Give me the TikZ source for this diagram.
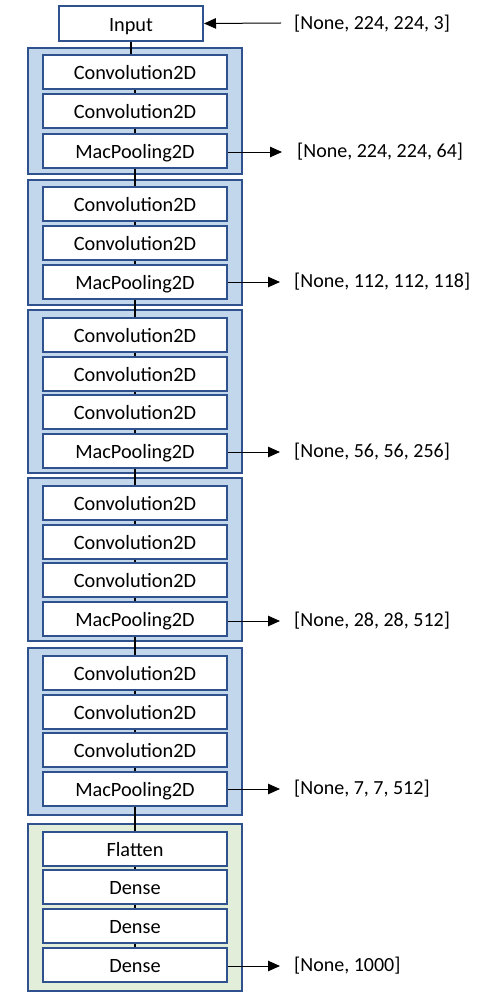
\documentclass[tikz,border=0pt]{standalone}
\usepackage{fontspec}
\setmainfont{Carlito}
\usetikzlibrary{arrows.meta}
\definecolor{edge}{HTML}{2F528F}
\definecolor{bluefill}{HTML}{C2D6EC}
\definecolor{greenfill}{HTML}{E3EEDA}
\tikzset{
  layer/.style={draw=edge, line width=2pt, fill=white, minimum width=184pt, minimum height=34pt, inner sep=0pt, text height=17.8pt, text depth=2pt, font=\fontsize{20.3}{24}\selectfont},
  blockb/.style={draw=edge, line width=2.4pt, fill=bluefill, minimum width=214pt, inner sep=0pt},
  blockg/.style={draw=edge, line width=2.4pt, fill=greenfill, minimum width=214pt, inner sep=0pt},
  shape lbl/.style={anchor=west, inner sep=0pt, font=\fontsize{20}{24}\selectfont},
  link/.style={draw=black, line width=1.6pt},
  outarrow/.style={draw=black, line width=1pt, -{Triangle[length=12pt,width=10.5pt]}},
}
\begin{document}
\begin{tikzpicture}[x=1pt,y=-1pt]
\useasboundingbox (0,0) rectangle (502,1006);
% outer blocks
\node[blockb, minimum height=126pt] (b1) at (135,111) {};
\node[blockb, minimum height=125pt] (b2) at (135,242.5) {};
\node[blockb, minimum height=163pt] (b3) at (135,391.5) {};
\node[blockb, minimum height=163pt] (b4) at (135,559.5) {};
\node[blockb, minimum height=167pt] (b5) at (135,731.5) {};
\node[blockg, minimum height=167pt] (b6) at (135,907.5) {};
% input
\node[layer, minimum width=144pt, minimum height=35pt] (in) at (131,23.5) {Input};
% block 1
\node[layer] (c11) at (135,72) {Convolution2D};
\node[layer] (c12) at (135,111) {Convolution2D};
\node[layer] (p1) at (135,151) {MacPooling2D};
% block 2
\node[layer] (c21) at (135,203.5) {Convolution2D};
\node[layer] (c22) at (135,242.5) {Convolution2D};
\node[layer] (p2) at (135,282) {MacPooling2D};
% block 3
\node[layer] (c31) at (135,334.5) {Convolution2D};
\node[layer] (c32) at (135,373.5) {Convolution2D};
\node[layer] (c33) at (135,412) {Convolution2D};
\node[layer] (p3) at (135,450.5) {MacPooling2D};
% block 4
\node[layer] (c41) at (135,502.5) {Convolution2D};
\node[layer] (c42) at (135,541.5) {Convolution2D};
\node[layer] (c43) at (135,580) {Convolution2D};
\node[layer] (p4) at (135,618.5) {MacPooling2D};
% block 5
\node[layer] (c51) at (135,672.5) {Convolution2D};
\node[layer] (c52) at (135,711.5) {Convolution2D};
\node[layer] (c53) at (135,750) {Convolution2D};
\node[layer] (p5) at (135,788.5) {MacPooling2D};
% block 6
\node[layer] (f) at (135,848.5) {Flatten};
\node[layer] (d1) at (135,887) {Dense};
\node[layer] (d2) at (135,926) {Dense};
\node[layer] (d3) at (135,964.5) {Dense};
% vertical links
\draw[link] (in.south) -- (in.south |- c11.north);
\foreach \a/\b in {c11/c12,c12/p1,p1/c21,c21/c22,c22/p2,p2/c31,c31/c32,c32/c33,c33/p3,p3/c41,c41/c42,c42/c43,c43/p4,p4/c51,c51/c52,c52/c53,c53/p5,p5/f,f/d1,d1/d2,d2/d3}
  \draw[link] (\a.south) -- (\b.north);
% shape labels
\node[shape lbl] (s0) at (294,24) {[None, 224, 224, 3]};
\node[shape lbl] (s1) at (297,152) {[None, 224, 224, 64]};
\node[shape lbl] (s2) at (294,282) {[None, 112, 112, 118]};
\node[shape lbl] (s3) at (294,452) {[None, 56, 56, 256]};
\node[shape lbl] (s4) at (294,621) {[None, 28, 28, 512]};
\node[shape lbl] (s5) at (294,789) {[None, 7, 7, 512]};
\node[shape lbl] (s6) at (294,966) {[None, 1000]};
% arrows
\coordinate (a0) at (281,23);
\draw[outarrow] (a0) -- (in.east);
\coordinate (a1) at (282,152);
\draw[outarrow] (p1.east |- a1) -- (a1);
\coordinate (a2) at (280,282);
\draw[outarrow] (p2.east |- a2) -- (a2);
\coordinate (a3) at (280,452);
\draw[outarrow] (p3.east |- a3) -- (a3);
\coordinate (a4) at (280,621);
\draw[outarrow] (p4.east |- a4) -- (a4);
\coordinate (a5) at (280,789);
\draw[outarrow] (p5.east |- a5) -- (a5);
\coordinate (a6) at (280,966);
\draw[outarrow] (d3.east |- a6) -- (a6);
\end{tikzpicture}
\end{document}
